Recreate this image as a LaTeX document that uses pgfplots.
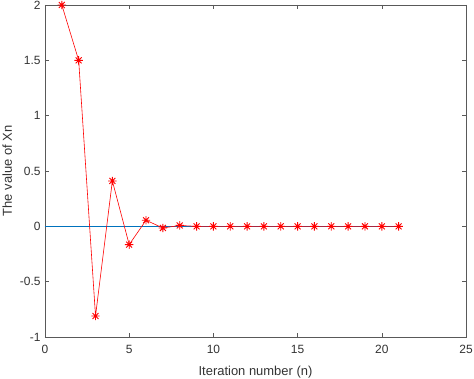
\documentclass[border=0pt]{standalone}
\usepackage{pgfplots}
\pgfplotsset{compat=1.18}
\usepackage{fontspec}
\setmainfont{Liberation Sans}
\definecolor{mblue}{rgb}{0,0.447,0.741}
\pgfdeclareplotmark{mstar}{%
  \pgfpathmoveto{\pgfqpoint{0pt}{\pgfplotmarksize}}%
  \pgfpathlineto{\pgfqpoint{0pt}{-\pgfplotmarksize}}%
  \pgfpathmoveto{\pgfqpoint{\pgfplotmarksize}{0pt}}%
  \pgfpathlineto{\pgfqpoint{-\pgfplotmarksize}{0pt}}%
  \pgfpathmoveto{\pgfqpoint{0.707\pgfplotmarksize}{0.707\pgfplotmarksize}}%
  \pgfpathlineto{\pgfqpoint{-0.707\pgfplotmarksize}{-0.707\pgfplotmarksize}}%
  \pgfpathmoveto{\pgfqpoint{-0.707\pgfplotmarksize}{0.707\pgfplotmarksize}}%
  \pgfpathlineto{\pgfqpoint{0.707\pgfplotmarksize}{-0.707\pgfplotmarksize}}%
  \pgfusepathqstroke}
\begin{document}
\begin{tikzpicture}
\useasboundingbox (-45bp,-42bp) rectangle (429bp,337bp);
\begin{axis}[
  at={(0,0)}, anchor=south west,
  scale only axis, width=421bp, height=332bp,
  xmin=0, xmax=25, ymin=-1, ymax=2,
  xtick={0,5,10,15,20,25},
  ytick={-1,-0.5,0,0.5,1,1.5,2},
  tick align=inside,
  tick pos=both,
  major tick length=4bp,
  axis line style={gray!70!black, line width=0.5pt},
  tick style={gray!70!black, line width=0.5pt},
  ticklabel style={font=\fontsize{12}{14}\selectfont, text=black!80},
  yticklabel style={xshift=-1bp},
  xticklabel style={yshift=-5bp},
  /pgf/number format/assume math mode=true,
  xlabel={Iteration number (n)},
  ylabel={The value of Xn},
  label style={font=\fontsize{13}{15}\selectfont, text=black!80},
  xlabel style={yshift=-5bp},
  ylabel style={yshift=1bp},
  clip=false,
]
\addplot[mblue, line width=0.8pt] coordinates {(0,0) (21,0)};
\addplot[red, line width=0.6pt, mark=mstar, mark size=4.2bp, mark options={line width=0.9pt}] coordinates {
(1,2) (2,1.5) (3,-0.81) (4,0.41) (5,-0.165) (6,0.055) (7,-0.015) (8,0.008)
(9,0) (10,0) (11,0) (12,0) (13,0) (14,0) (15,0) (16,0) (17,0) (18,0) (19,0) (20,0) (21,0)};
\end{axis}
\end{tikzpicture}
\end{document}
